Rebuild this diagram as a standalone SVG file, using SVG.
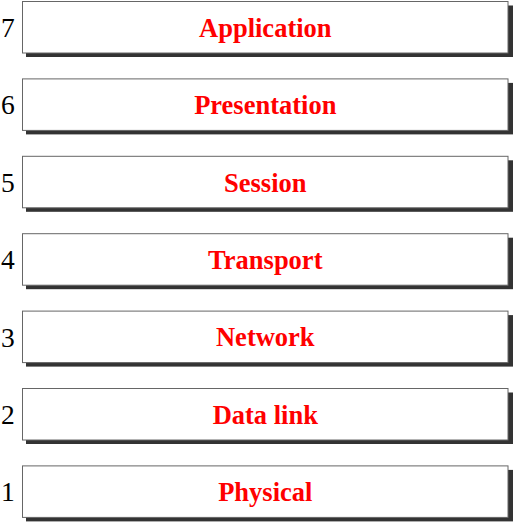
<svg xmlns="http://www.w3.org/2000/svg" width="514" height="524" viewBox="0 0 514 524">
<style>
.sh{fill:#333333;}
.bx{fill:#ffffff;stroke:#666666;stroke-width:1;}
.lbl{font-family:"Liberation Serif",serif;font-weight:bold;font-size:26.5px;fill:#ff0000;text-anchor:middle;}
.num{font-family:"Liberation Serif",serif;font-size:27.5px;fill:#000000;}
</style>
<rect width="514" height="524" fill="#ffffff"/>
<g id="layer7">
<rect class="sh" x="26" y="5.5" width="487" height="51.5"/>
<rect class="bx" x="22.5" y="1.5" width="485.5" height="51.5"/>
<text class="num" x="1" y="37">7</text>
<text class="lbl" x="265.3" y="36.8">Application</text>
</g>
<g id="layer6">
<rect class="sh" x="26" y="82.9" width="487" height="51.5"/>
<rect class="bx" x="22.5" y="78.9" width="485.5" height="51.5"/>
<text class="num" x="1" y="114.4">6</text>
<text class="lbl" x="265.3" y="114.2">Presentation</text>
</g>
<g id="layer5">
<rect class="sh" x="26" y="160.3" width="487" height="51.5"/>
<rect class="bx" x="22.5" y="156.3" width="485.5" height="51.5"/>
<text class="num" x="1" y="191.8">5</text>
<text class="lbl" x="265.3" y="191.6">Session</text>
</g>
<g id="layer4">
<rect class="sh" x="26" y="237.7" width="487" height="51.5"/>
<rect class="bx" x="22.5" y="233.7" width="485.5" height="51.5"/>
<text class="num" x="1" y="269.2">4</text>
<text class="lbl" x="265.3" y="269">Transport</text>
</g>
<g id="layer3">
<rect class="sh" x="26" y="315.1" width="487" height="51.5"/>
<rect class="bx" x="22.5" y="311.1" width="485.5" height="51.5"/>
<text class="num" x="1" y="346.6">3</text>
<text class="lbl" x="265.3" y="346.4">Network</text>
</g>
<g id="layer2">
<rect class="sh" x="26" y="392.5" width="487" height="51.5"/>
<rect class="bx" x="22.5" y="388.5" width="485.5" height="51.5"/>
<text class="num" x="1" y="424">2</text>
<text class="lbl" x="265.3" y="423.8">Data link</text>
</g>
<g id="layer1">
<rect class="sh" x="26" y="469.9" width="487" height="51.5"/>
<rect class="bx" x="22.5" y="465.9" width="485.5" height="51.5"/>
<text class="num" x="1" y="501.4">1</text>
<text class="lbl" x="265.3" y="501.2">Physical</text>
</g>
<g id="connectors"></g>
</svg>
